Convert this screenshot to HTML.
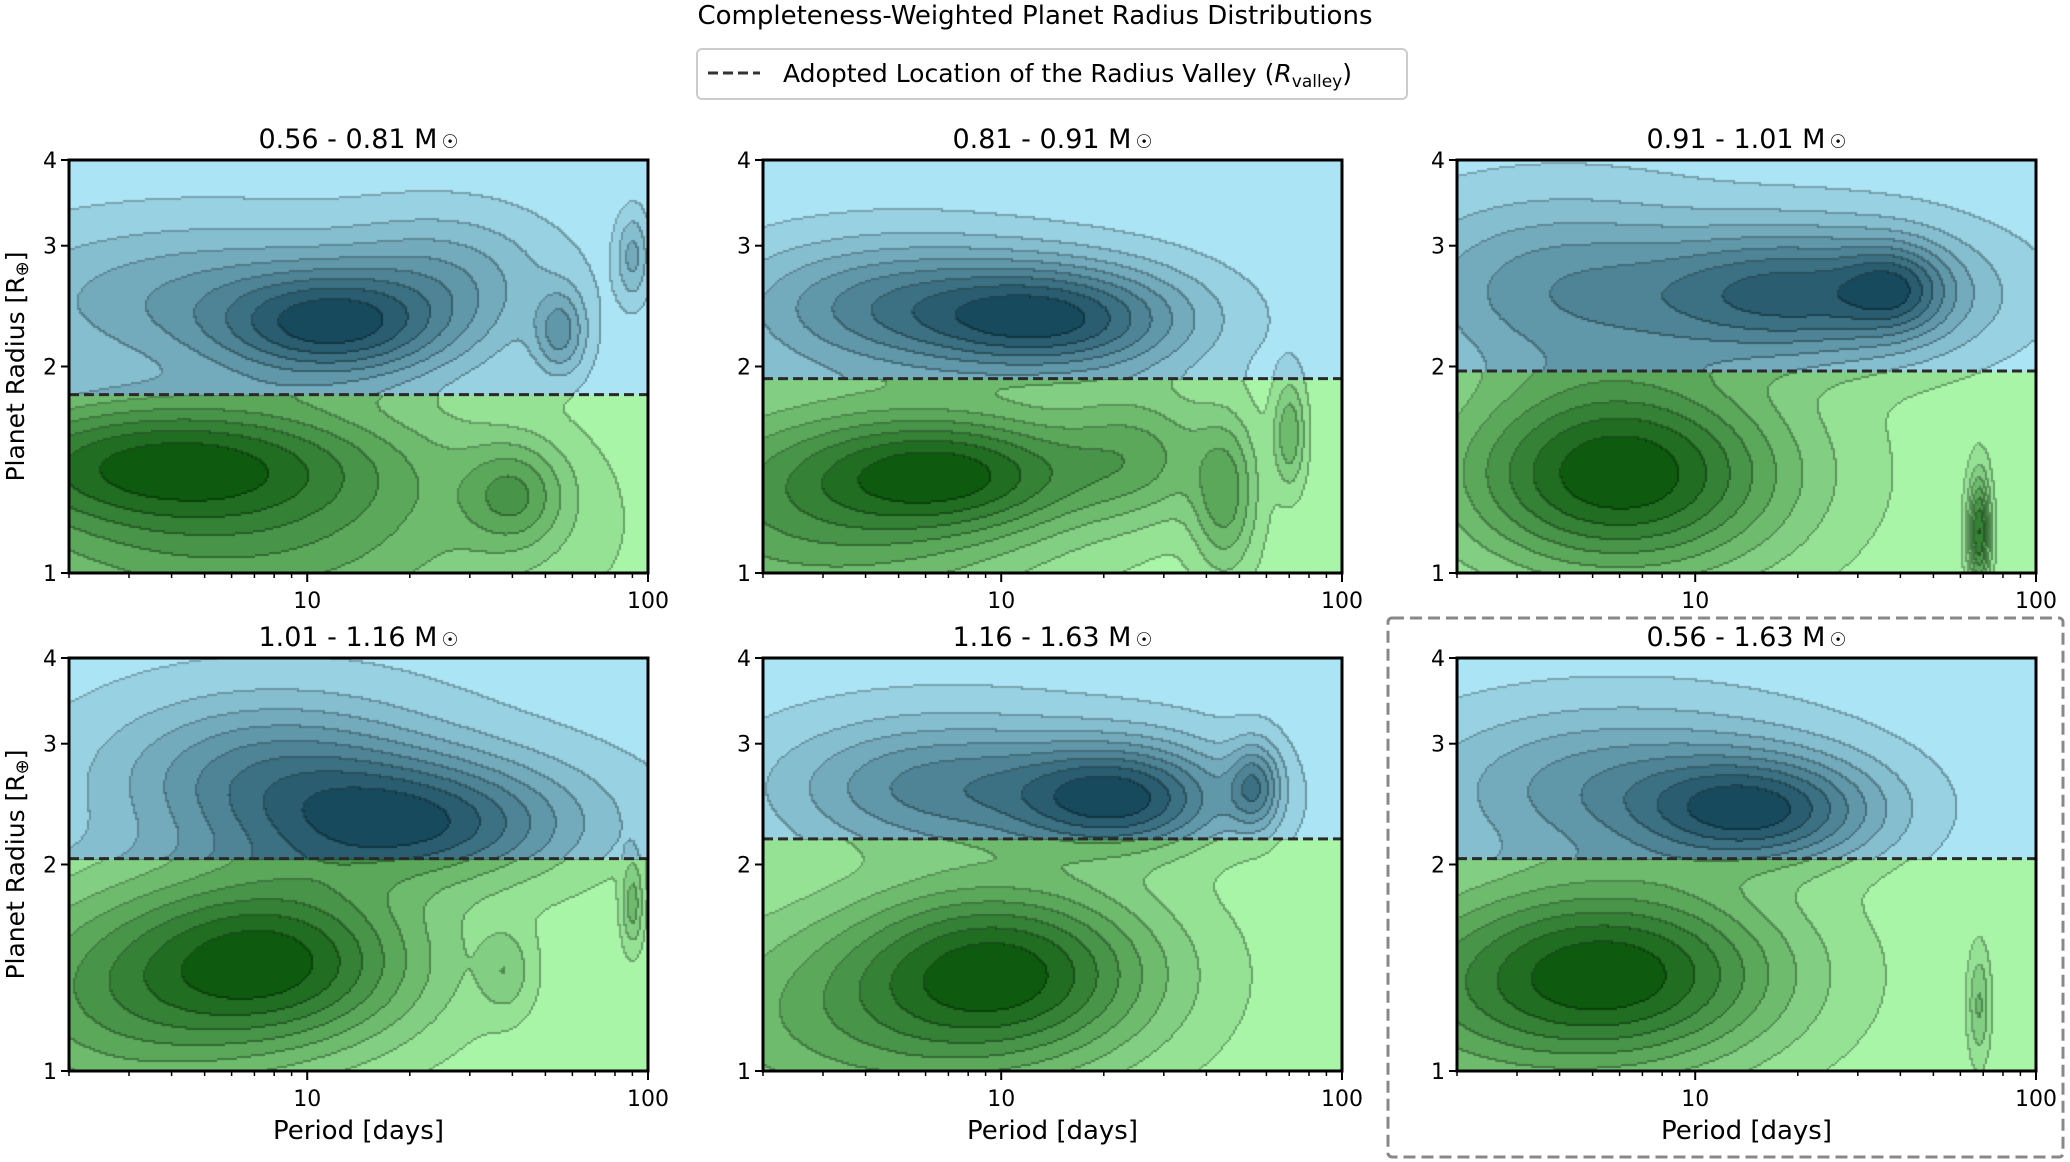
<!DOCTYPE html>
<html><head><meta charset="utf-8"><style>
body{margin:0;background:#fff;}
#root{position:relative;width:2070px;height:1162px;font-family:"DejaVu Sans","Liberation Sans",sans-serif;overflow:hidden;}
canvas{position:absolute;}
svg{position:absolute;left:0;top:0;}
</style></head><body>
<div id="root">
<svg id="svg" width="2070" height="1162"></svg>
</div>
<script>
// ---- data ----
const panelTitles = ["0.56 - 0.81 M","0.81 - 0.91 M","0.91 - 1.01 M","1.01 - 1.16 M","1.16 - 1.63 M","0.56 - 1.63 M"];
const valleyRadii = [1.82, 1.92, 1.97, 2.04, 2.18, 2.04];
const yTicks = [1, 2, 3, 4];
const xMajorTicks = [10, 100];
const xMinorTicks = [2,3,4,5,6,7,8,9,20,30,40,50,60,70,80,90];
// blobs: [period, radius, amplitude, sigma log10 P, sigma log10 R]
const blobs1 = [[12,2.3,1,0.22,0.05],[4,1.45,0.9,0.4,0.06],[6,1.15,0.5,0.5,0.1],[40,1.3,0.45,0.1,0.05],[55,2.25,0.45,0.05,0.04],[90,2.9,0.3,0.03,0.04],[5,2.5,0.4,0.4,0.07],[25,2.7,0.3,0.2,0.06]];
const blobs2 = [[14,2.35,1,0.25,0.05],[7,1.4,1,0.28,0.055],[3,1.25,0.6,0.4,0.1],[45,1.3,0.5,0.06,0.07],[70,1.6,0.4,0.03,0.05],[25,1.5,0.4,0.15,0.06],[5,2.45,0.6,0.3,0.06]];
const blobs3 = [[20,2.55,0.8,0.3,0.06],[38,2.6,0.5,0.1,0.04],[6,1.4,1,0.3,0.09],[68,1.15,0.7,0.02,0.05],[4,2.6,0.4,0.3,0.08]];
const blobs4 = [[8,1.45,1,0.27,0.08],[20,2.3,0.6,0.3,0.06],[3,1.3,0.5,0.3,0.1],[90,1.75,0.3,0.02,0.04],[38,1.4,0.2,0.05,0.04],[8,2.7,0.35,0.3,0.07]];
const blobs5 = [[10,1.4,1,0.28,0.08],[22,2.5,0.7,0.2,0.05],[55,2.6,0.4,0.05,0.04],[7,2.6,0.4,0.3,0.06],[4,1.2,0.4,0.4,0.1]];
const blobs6 = [[6,1.4,1,0.3,0.08],[15,2.4,0.8,0.22,0.05],[3,1.3,0.5,0.4,0.1],[68,1.25,0.3,0.02,0.05],[6,2.6,0.4,0.35,0.07]];
const allBlobs = [blobs1,blobs2,blobs3,blobs4,blobs5,blobs6];

// ---- layout ----
const colX = [69, 763, 1457], PW = 579, PH = 413;
const rowY = [160, 658];
const X0 = 2, X1 = 100, Y0 = 1, Y1 = 4;
const NS = "http://www.w3.org/2000/svg";
const svg = document.getElementById('svg');
const root = document.getElementById('root');
function mk(tag, attrs, parent){const e=document.createElementNS(NS,tag);for(const k in attrs)e.setAttribute(k,attrs[k]);(parent||svg).appendChild(e);return e;}
function xs(p,L){return L+PW*Math.log(p/X0)/Math.log(X1/X0);}
function ys(r,T){return T+PH-PH*Math.log(r/Y0)/Math.log(Y1/Y0);}
function lerp(a,b,t){return a.map((v,i)=>Math.round(v+(b[i]-v)*t));}
const blueLo=[170,228,245], blueHi=[22,74,92], greenLo=[168,245,168], greenHi=[14,90,14];
const NL = 9;

let t=mk('text',{x:1035,y:24,'text-anchor':'middle','font-size':26,fill:'#000'});t.textContent='Completeness-Weighted Planet Radius Distributions';

const lg=mk('g',{});
mk('rect',{x:697,y:49,width:710,height:50,rx:5,fill:'#fff',stroke:'#ccc','stroke-width':2},lg);
mk('line',{x1:708,y1:73,x2:760,y2:73,stroke:'#333','stroke-width':3,'stroke-dasharray':'10,5'},lg);
t=mk('text',{x:783,y:82,'font-size':25,fill:'#000'},lg);
t.innerHTML='Adopted Location of the Radius Valley (<tspan font-style="italic">R</tspan><tspan font-size="17" dy="5">valley</tspan><tspan dy="-5">)</tspan>';

const hb=mk('rect',{x:1388,y:618,width:675,height:539,rx:4,fill:'none',stroke:'#888','stroke-width':3,'stroke-dasharray':'12,6'});


for(let i=0;i<6;i++){
  const L=colX[i%3], T=rowY[Math.floor(i/3)], bl=allBlobs[i], vr=valleyRadii[i];
  const cv=document.createElement('canvas');cv.width=PW;cv.height=PH;cv.style.left=L+'px';cv.style.top=T+'px';
  
  
  root.insertBefore(cv,svg);
  const ctx=cv.getContext('2d');const img=ctx.createImageData(PW,PH);
  const S=2, gw=Math.ceil(PW/S), gh=Math.ceil(PH/S);
  const d=new Float32Array(gw*gh); const vy=ys(vr,0);
  let maxU=0,maxL=0;
  for(let gy=0;gy<gh;gy++){
    const r=Math.pow(Y1, 1-(gy*S)/PH); const lr=Math.log10(r);
    for(let gx=0;gx<gw;gx++){
      const p=X0*Math.pow(X1/X0,(gx*S)/PW); const lp=Math.log10(p);
      let s=0.02;
      for(const b of bl){const dx=(lp-Math.log10(b[0]))/b[3], dy=(lr-Math.log10(b[1]))/b[4]; s+=b[2]*Math.exp(-0.5*(dx*dx+dy*dy));}
      d[gy*gw+gx]=s;
      if(gy*S<vy) maxU=Math.max(maxU,s); else maxL=Math.max(maxL,s);
    }
  }
  const lev=new Int8Array(gw*gh);
  for(let gy=0;gy<gh;gy++)for(let gx=0;gx<gw;gx++){
    const up=gy*S<vy; const m=up?maxU:maxL;
    lev[gy*gw+gx]=Math.min(NL-1,Math.floor(Math.pow(d[gy*gw+gx]/m,0.72)*NL));
  }
  for(let y=0;y<PH;y++)for(let x=0;x<PW;x++){
    const gx=Math.floor(x/S), gy=Math.floor(y/S), k=gy*gw+gx, l=lev[k];
    const up=y<vy;
    let c=up?lerp(blueLo,blueHi,l/(NL-1)):lerp(greenLo,greenHi,l/(NL-1));
    let edge=(gx+1<gw&&lev[k+1]!==l)||(gy+1<gh&&lev[k+gw]!==l&&((gy+1)*S<vy)===up);
    if(edge) c=c.map(v=>Math.round(v*0.72));
    const o=(y*PW+x)*4;img.data[o]=c[0];img.data[o+1]=c[1];img.data[o+2]=c[2];img.data[o+3]=255;
  }
  ctx.putImageData(img,0,0);

  const g=mk('g',{});
  const vl=mk('line',{x1:L,x2:L+PW,y1:ys(vr,T),y2:ys(vr,T),stroke:'#2a2a2a','stroke-width':3,'stroke-dasharray':'10,5'},g);
  
  mk('rect',{x:L,y:T,width:PW,height:PH,fill:'none',stroke:'#000','stroke-width':3},g);
  const tt=mk('text',{x:L+PW/2,y:T-12,'text-anchor':'middle','font-size':27,fill:'#000'},g);
  tt.innerHTML=panelTitles[i]+'<tspan font-size="19" dx="4">☉</tspan>';
  
  for(const v of yTicks){const y=ys(v,T);mk('line',{x1:L-8,x2:L,y1:y,y2:y,stroke:'#000','stroke-width':2},g);
    const tl=mk('text',{x:L-12,y:y+8,'text-anchor':'end','font-size':22},g);tl.textContent=v;}
  for(const v of xMajorTicks){const x=xs(v,L);mk('line',{x1:x,x2:x,y1:T+PH,y2:T+PH+9,stroke:'#000','stroke-width':2},g);
    const tl=mk('text',{x:x,y:T+PH+35,'text-anchor':'middle','font-size':22},g);tl.textContent=v;}
  for(const v of xMinorTicks){const x=xs(v,L);mk('line',{x1:x,x2:x,y1:T+PH,y2:T+PH+5,stroke:'#000','stroke-width':1.5},g);}
  if(i%3===0){const yl=mk('text',{x:0,y:0,'text-anchor':'middle','font-size':25,transform:`translate(24,${T+PH/2}) rotate(-90)`},g);
    yl.innerHTML='Planet Radius [R<tspan font-size="18" dy="4">⊕</tspan><tspan dy="-4">]</tspan>';
    }
  if(i>=3){const xl=mk('text',{x:L+PW/2,y:T+PH+68,'text-anchor':'middle','font-size':26},g);xl.textContent='Period [days]';
    }
}
</script>
</body></html>
